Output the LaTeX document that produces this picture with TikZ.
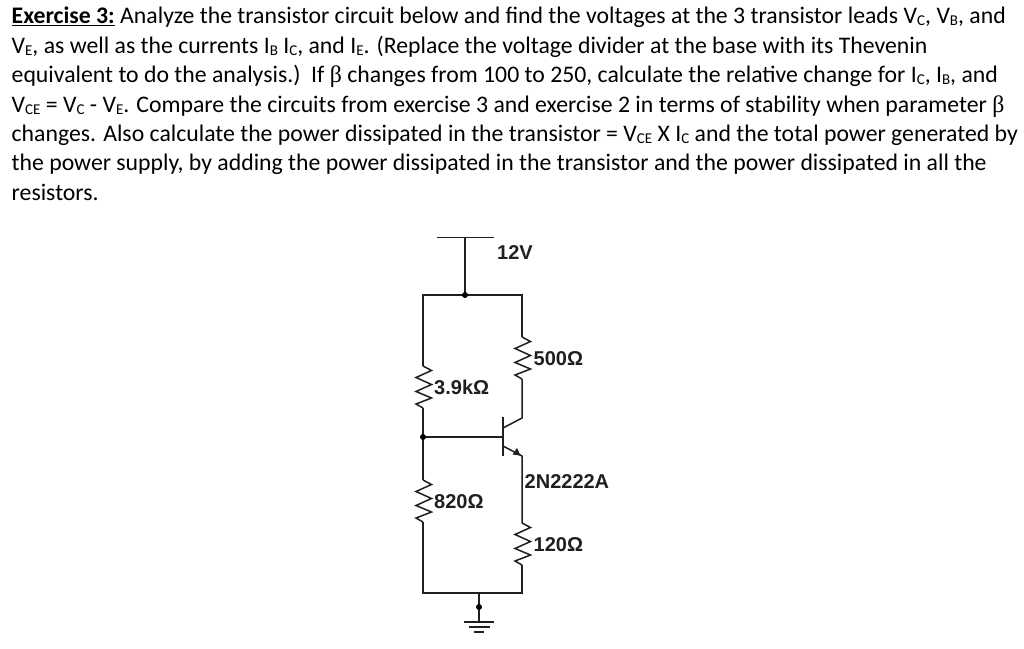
\documentclass[tikz,border=0pt]{standalone}
\usepackage{fontspec}
\setmainfont{Carlito}
\newfontfamily\labelfont{Liberation Sans}
\newfontfamily\betafont{Liberation Serif}
\newcommand{\sbs}[1]{\raisebox{-2.2pt}{\fontsize{15}{15}\selectfont #1}}
\newcommand{\bet}{{\betafont β}}
\definecolor{ink}{gray}{0.12}
\tikzset{
 txtline/.style={anchor=base west,inner sep=0pt,text=black,font=\fontsize{23.75}{29}\selectfont},
 val/.style={anchor=base west,inner sep=0pt,text=ink,font=\labelfont\bfseries\fontsize{20}{22}\selectfont},
 wire/.style={draw=ink,line width=1.5pt,line join=miter},
 thinwire/.style={draw=ink,line width=1pt},
 gndbar/.style={draw=ink,line width=1.3pt},
 dot/.style={circle,fill=black,inner sep=0pt,minimum size=6pt},
 zig/.pic={\draw[wire] (0,0) -- (8.5,4.5) -- (-7,11.5) -- (8.5,18.5) -- (-7,25.5) -- (8.5,32) -- (-7,38) -- (0,42);}
}
\begin{document}
\begin{tikzpicture}[x=1pt,y=-1pt]
\useasboundingbox (0,0) rectangle (1024,648);
\node[txtline] (l1) at (11.5,23.5) {\underline{\textbf{Exercise 3:}} Analyze the transistor circuit below and find the voltages at the 3 transistor leads V\sbs{C}, V\sbs{B}, and};
\node[txtline] (l2) at (11.5,53) {V\sbs{E}, as well as the currents I\sbs{B} I\sbs{C}, and I\sbs{E}. (Replace the voltage divider at the base with its Thevenin};
\node[txtline] (l3) at (11.5,82.5) {equivalent to do the analysis.)\ \ If \bet{} changes from 100 to 250, calculate the relative change for I\sbs{C}, I\sbs{B}, and};
\node[txtline] (l4) at (11.5,112) {V\sbs{CE} = V\sbs{C} - V\sbs{E}. Compare the circuits from exercise 3 and exercise 2 in terms of stability when parameter \bet};
\node[txtline] (l5) at (11.5,141.5) {changes. Also calculate the power dissipated in the transistor = V\sbs{CE} X I\sbs{C} and the total power generated by};
\node[txtline] (l6) at (11.5,170.5) {the power supply, by adding the power dissipated in the transistor and the power dissipated in all the};
\node[txtline] (l7) at (11.5,200) {resistors.};

\coordinate (vl) at (437,237); \coordinate (vr) at (494,237); \coordinate (vm) at (465,237);
\coordinate (tj) at (465,295);
\coordinate (tl) at (423,295); \coordinate (tr) at (522,295);
\coordinate (r1a) at (423,366); \coordinate (r1b) at (423,408);
\coordinate (bj) at (423,437); \coordinate (bb) at (503,437);
\coordinate (r2a) at (423,480); \coordinate (r2b) at (423,522);
\coordinate (bl) at (423,593); \coordinate (br) at (522,593);
\coordinate (r3a) at (522,337); \coordinate (r3b) at (522,379);
\coordinate (cc) at (522,418); \coordinate (cb) at (503,428);
\coordinate (et) at (503,446); \coordinate (ee) at (522,456);
\coordinate (r4a) at (522,523); \coordinate (r4b) at (522,565);
\coordinate (gt) at (479,593); \coordinate (gj) at (479,607); \coordinate (gb) at (479,622);
\coordinate (bt) at (503,417); \coordinate (bu) at (503,456);

\draw[thinwire] (vl) -- (vr);
\draw[wire] (vm) -- (tj);
\draw[wire] (r1a) -- (tl) -- (tr) -- (r3a);
\draw[wire] (r1b) -- (r2a);
\draw[wire] (r2b) -- (bl) -- (br) -- (r4b);
\draw[wire] (bj) -- (bb);
\draw[wire] (r3b) -- (cc) -- (cb);
\draw[wire] (bt) -- (bu);
\draw[wire] (et) -- (ee) -- (r4a);
\draw[wire] (gt) -- (gb);
\pic at (r1a) {zig};
\pic at (r2a) {zig};
\pic at (r3a) {zig};
\pic at (r4a) {zig};
\fill[ink] (520.5,455.5) -- (512.5,454.5) -- (517,448) -- cycle;
\node[dot] (d1) at (tj) {};
\node[dot] (d2) at (bj) {};
\node[dot] (d3) at (gj) {};
\coordinate (g1l) at (464,622); \coordinate (g1r) at (494,622);
\coordinate (g2l) at (469,627); \coordinate (g2r) at (490,627);
\coordinate (g3l) at (474,632); \coordinate (g3r) at (484,632);
\draw[gndbar] (g1l) -- (g1r);
\draw[gndbar] (g2l) -- (g2r);
\draw[gndbar] (g3l) -- (g3r);

\node[val] (v12) at (497,259) {12V};
\node[val] (n500) at (533.5,365) {500Ω};
\node[val] (n39) at (434,394) {3.9kΩ};
\node[val] (n2n) at (524.5,488) {2N2222A};
\node[val] (n820) at (434,508) {820Ω};
\node[val] (n120) at (533.5,551) {120Ω};
\end{tikzpicture}
\end{document}
